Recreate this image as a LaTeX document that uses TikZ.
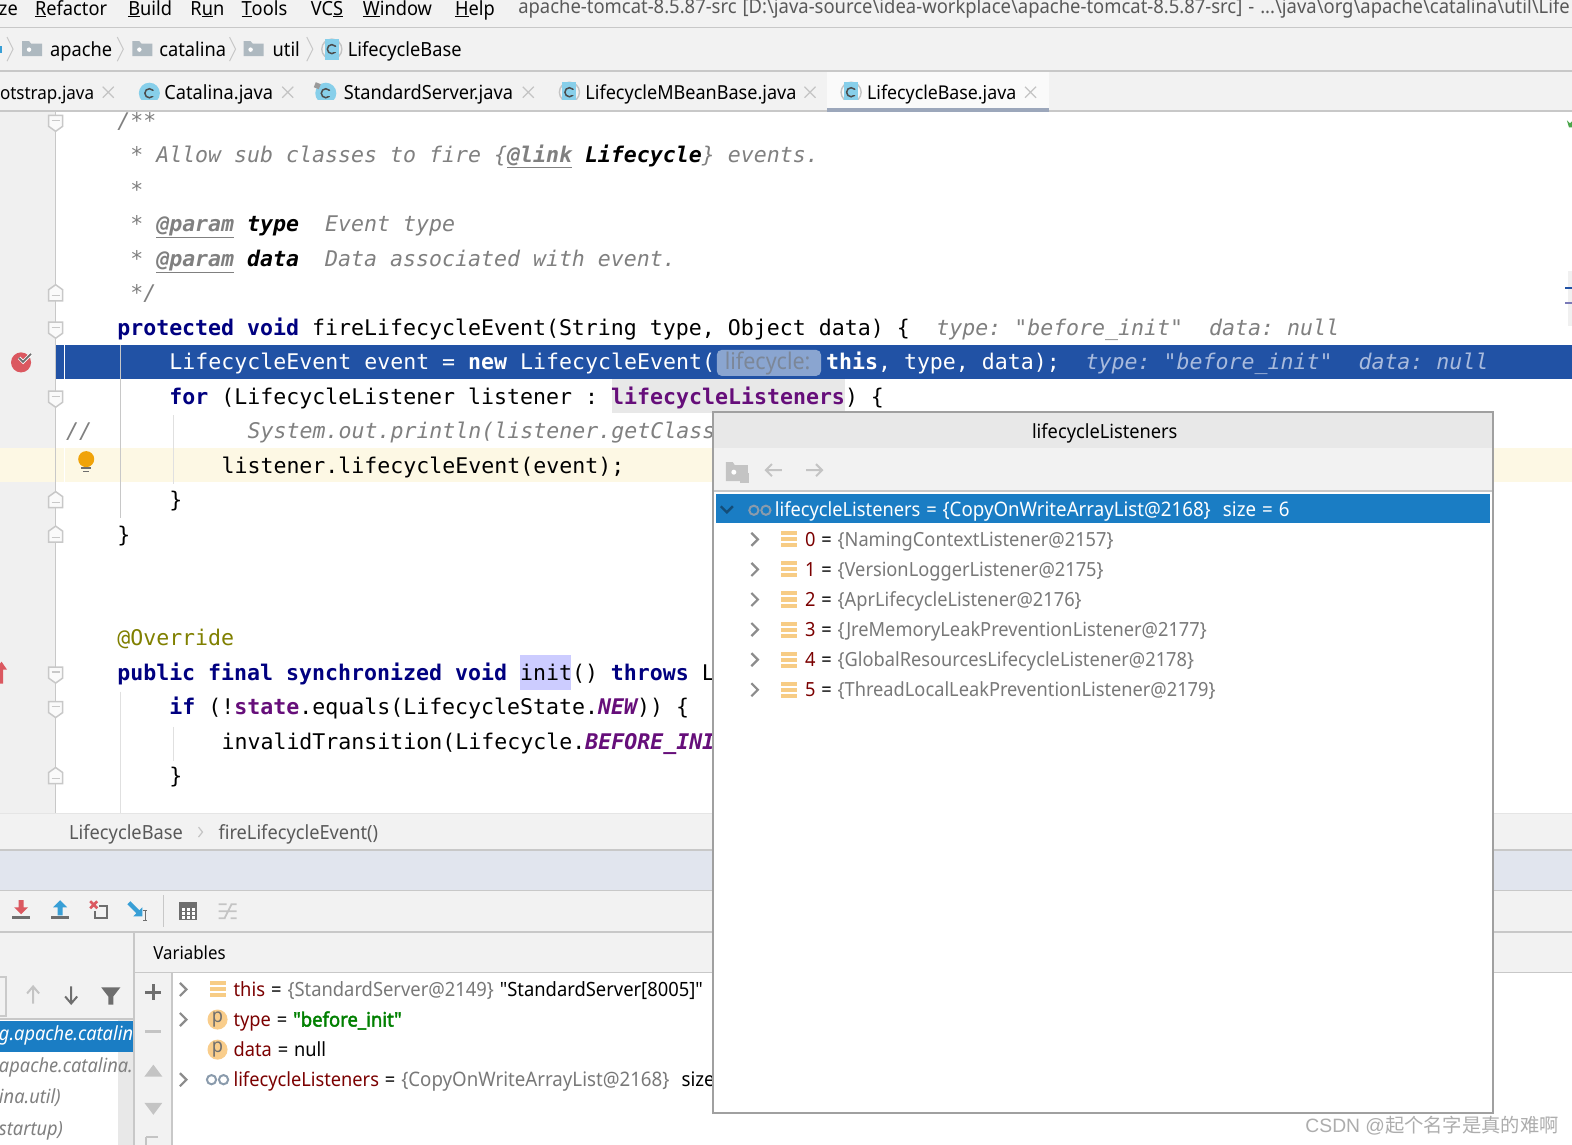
\documentclass[tikz,border=0pt]{standalone}
\usepackage{fontspec}
\newfontfamily\uif[FakeStretch=0.935,WordSpace=1.25]{Noto Sans}
\newfontfamily\uifb[FakeStretch=0.935,WordSpace=1.25,FakeBold=2.2]{Noto Sans}
\newfontfamily\cf{DejaVu Sans Mono}
\newfontfamily\wmf{Liberation Sans}
\newfontfamily\cjkf{Noto Sans CJK SC}
\definecolor{barbg}{HTML}{F2F2F2}
\definecolor{sepc}{HTML}{C8C8C8}
\definecolor{gutterbg}{HTML}{F0F0F0}
\definecolor{selrow}{HTML}{2152A5}
\definecolor{treesel}{HTML}{1A7DC4}
\definecolor{kw}{HTML}{000080}
\definecolor{fld}{HTML}{660E7A}
\definecolor{cmt}{HTML}{808080}
\definecolor{hintc}{HTML}{A9BBDD}
\definecolor{ann}{HTML}{808000}
\definecolor{yelrow}{HTML}{FDF8E4}
\definecolor{vname}{HTML}{7B0000}
\definecolor{vgray}{HTML}{787878}
\definecolor{stripe}{HTML}{F7CC85}
\definecolor{iblue}{HTML}{87CFEA}
\definecolor{icdark}{HTML}{6E6E6E}
\definecolor{iclight}{HTML}{C4C4C4}
\definecolor{ired}{HTML}{DB5860}
\definecolor{ibl}{HTML}{389FD6}
\definecolor{glass}{HTML}{8A9BAC}
\definecolor{dbghead}{HTML}{E1E5EE}
\definecolor{tabline}{HTML}{9CA7BB}
\definecolor{bulb}{HTML}{F0A30A}
\definecolor{folderc}{HTML}{AEB9C0}
\definecolor{pillc}{HTML}{8AA5D0}
\definecolor{pilltx}{HTML}{7C8798}
\definecolor{initbg}{HTML}{CCCCFF}
\definecolor{popborder}{HTML}{A0A0A0}
\definecolor{poptitle}{HTML}{E8E8E8}
\definecolor{pcirc}{HTML}{F9CD8B}
\definecolor{strgreen}{HTML}{008000}
\definecolor{chevdark}{HTML}{144D78}
\newcommand\kwd[1]{{\bfseries\color{kw}#1}}
\newcommand\flds[1]{{\bfseries\color{fld}#1}}
\newcommand\docb[1]{{\bfseries\color{black}#1}}
\newcommand\vn[1]{{\color{vname}#1}}
\newcommand\vg[1]{{\color{vgray}#1}}
\newcommand\uiset[1]{\uif\frenchspacing\fontsize{#1}{24}\selectfont}
\newcommand\cdln[3]{\node[codet] at (#1,{128+34.4*#2}) {#3};}
\newcommand\uit[3]{\node[uitx] at (#1,#2) {#3};}
\newcommand\foldd[1]{\begin{scope}[shift={(55.5,{123+34.4*#1})}]
 \draw[foldst] (-7,-8) -- (7,-8) -- (7,3) -- (0,8) -- (-7,3) -- cycle; \draw[foldm] (-4,-3) -- (4,-3);\end{scope}}
\newcommand\foldu[1]{\begin{scope}[shift={(55.5,{120+34.4*#1})}]
 \draw[foldst] (-7,8) -- (7,8) -- (7,-3) -- (0,-8) -- (-7,-3) -- cycle; \draw[foldm] (-4,3) -- (4,3);\end{scope}}
\newcommand\chev[2]{\draw[chevst] ({#1-3.5},{#2-6.5}) -- ({#1+3},#2) -- ({#1-3.5},{#2+6.5});}
\newcommand\stripes[2]{\begin{scope}[shift={(#1,#2)}]
 \fill[stripe] (-8,-8) rectangle (8,-4); \fill[stripe] (-8,-2) rectangle (8,2); \fill[stripe] (-8,4) rectangle (8,8);\end{scope}}
\newcommand\glasses[2]{\begin{scope}[shift={(#1,#2)}]
 \draw[glass,line width=2pt] (-6,0) circle[radius=4.6]; \draw[glass,line width=2pt] (6,0) circle[radius=4.6];\end{scope}}
\newcommand\clsicon[2]{\begin{scope}[shift={(#1,#2)}]
 \fill[iblue] (0,0) circle[radius=10.5];
 \draw[black!70,line width=1.5pt] (0,0) circle[radius=4.5]; \fill[iblue] (1.5,-2.4) rectangle (6.5,2.4);\end{scope}}
\newcommand\absicon[2]{\begin{scope}[shift={(#1,#2)}]
 \draw[iclight,line width=1.4pt] (0,0) circle[radius=10]; \fill[iblue] (-7,-10.5) rectangle (7,10.5);
 \draw[black!70,line width=1.5pt] (0,0) circle[radius=4.5]; \fill[iblue] (1.5,-2.4) rectangle (6.5,2.4);\end{scope}}
\newcommand\closex[2]{\draw[iclight,line width=1.2pt] ({#1-5.5},{#2-5.5}) -- ({#1+5.5},{#2+5.5}) ({#1-5.5},{#2+5.5}) -- ({#1+5.5},{#2-5.5});}
\newcommand\crumbfolder[2]{\begin{scope}[shift={(#1,#2)}]
 \fill[folderc] (-10,-8) -- (-3,-8) -- (-1,-5.5) -- (10,-5.5) -- (10,7) -- (-10,7) -- cycle;
 \fill[white] (-3,0.5) circle[radius=2.2];\end{scope}}
\newcommand\crumbchev[2]{\draw[sepc,line width=1pt] ({#1-3},{#2-12}) -- ({#1+3},#2) -- ({#1-3},{#2+12});}
\newcommand\treerow[3]{\chev{753}{#1}\stripes{787}{#1}\node[uitx] at (803,{#1+7}) {\vn{#2} = \vg{\{#3\}}};}
\tikzset{
 codet/.style={anchor=base west,inner sep=0pt,outer sep=0pt,font=\cf\frenchspacing\fontsize{21.58}{26}\selectfont},
 uitx/.style={anchor=base west,inner sep=0pt,outer sep=0pt,font=\uiset{19.5}},
 uiit/.style={uitx,font=\uiset{19.5}\itshape},
 foldst/.style={draw=sepc,line width=1.5pt,fill=white!70!gutterbg},
 foldm/.style={draw=sepc,line width=1.2pt},
 chevst/.style={draw=black!45,line width=2.2pt},
 guide/.style={draw=black!12,line width=1.5pt},
}
\begin{document}
\begin{tikzpicture}[x=1.0025pt,y=-1.0025pt]
\useasboundingbox (0,0) rectangle (1568.1,1142.1);
\clip (0,0) rectangle (1568.1,1142.1);
\fill[white] (0,0) rectangle (1568.1,1142.1);
% menu, crumbs, tabs
\fill[barbg] (0,0) rectangle (1568.1,111);
\fill[sepc] (0,27) rectangle (1568.1,28);
\fill[sepc] (0,70) rectangle (1568.1,71.5);
\uit{-1}{15}{ze}
\uit{35}{15}{\underline{R}efactor}
\uit{128}{15}{\underline{B}uild}
\uit{190}{15}{R\underline{u}n}
\uit{241}{15}{\underline{T}ools}
\uit{310}{15}{VC\underline{S}}
\uit{362}{15}{\underline{W}indow}
\uit{454}{15}{\underline{H}elp}
\node[uitx,text=black!65,font=\uiset{19.72}] at (517,13) {apache-tomcat-8.5.87-src [D:\textbackslash java-source\textbackslash idea-workplace\textbackslash apache-tomcat-8.5.87-src] - ...\textbackslash java\textbackslash org\textbackslash apache\textbackslash catalina\textbackslash util\textbackslash Life};
\fill[ibl] (0,46) rectangle (2,53);
\crumbchev{10}{49}
\crumbfolder{32}{49}\uit{50}{56}{apache}
\crumbchev{120}{49}
\crumbfolder{142}{49}\uit{159}{56}{catalina}
\crumbchev{232}{49}
\crumbfolder{253}{49}\uit{272}{56}{util}
\crumbchev{309}{49}
\absicon{331}{49}\uit{347}{56}{LifecycleBase}
\fill[white!60!barbg] (825,72) rectangle (1046,109);
\closex{108}{92}
\clsicon{149}{93}\closex{287}{92}
\clsicon{325}{93}\closex{527}{92}
\fill[icdark!70!white] (315,82) -- (320,84) -- (318,89) -- (313,87) -- cycle;
\absicon{568}{92}\closex{808}{92}
\absicon{849}{92}\closex{1028}{92}
% gutter and rows
\fill[gutterbg] (0,112) rectangle (55,811);
\fill[yelrow] (0,447) rectangle (1568.1,481);
\fill[white] (63.5,447) rectangle (64.5,481);
\fill[selrow] (56,344) rectangle (1568.1,378);
\fill[white] (63.5,344) rectangle (64.5,378);
\fill[sepc] (54.5,112) rectangle (56,811);
\fill[black!9] (610,378) rectangle (843,412);
\fill[initbg] (519,653) rectangle (570,688);
\draw[sepc,line width=1.5pt] (120,344) -- (120,517);
\draw[guide] (173,414) -- (173,483);
\draw[guide] (120,690) -- (120,811);
\draw[guide] (173,725) -- (173,759);
\foldd{0}\foldu{5}\foldd{6}\foldd{8}\foldu{11}\foldu{12}\foldd{16}\foldd{17}\foldu{19}
% code
\cdln{117}{0}{\color{cmt}\itshape /**}
% tab strip edge lies over the first fold and the cut first code line
\fill[barbg] (0,100) rectangle (825,110);
\fill[white!60!barbg] (825,100) rectangle (1046,109);
\fill[barbg] (1046,100) rectangle (1568.1,110);
\fill[sepc] (0,110) rectangle (1568.1,112);
\fill[tabline] (825,108) rectangle (1046,112);
\node[uitx,font=\uiset{18.2}] at (0,99) {otstrap.java};
\uit{164}{99}{Catalina.java}
\uit{343}{99}{StandardServer.java}
\node[uitx,font=\uiset{19.3}] at (584,99) {LifecycleMBeanBase.java};
\node[uitx,font=\uiset{19}] at (865,99) {LifecycleBase.java};
% breakpoint
\fill[ired] (21,361.5) circle[radius=10];
\draw[white,line width=3.4pt] (19,357) -- (23,361) -- (31,353);
\draw[icdark,line width=1.8pt] (19,357) -- (23,361) -- (31,353);
% bulb
\fill[bulb] (86,458) circle[radius=8];
\fill[bulb] (82,462) rectangle (90,465);
\fill[icdark] (81,466) rectangle (91,467.5);
\fill[icdark] (83,469.5) rectangle (89,471);
% red arrow
\fill[ired] (-4,668) -- (1.5,660) -- (7,668) -- (3,668) -- (3,682) -- (0,682) -- (0,668) -- cycle;
% right stripe
\fill[black!6] (1564,270) rectangle (1568.1,325);
\fill[selrow] (1561,286) rectangle (1568.1,288.5);
\fill[blue!30!gray!80] (1561,301) rectangle (1568.1,303);
\fill[green!50!black!70] (1563,120) -- (1566,123) -- (1568.1,121) -- (1568.1,127) -- (1565,127) -- cycle;
\cdln{117}{1}{\color{cmt}\itshape ~* Allow sub classes to fire \{{\bfseries\underline{@link}} \docb{Lifecycle}\} events.}
\cdln{117}{2}{\color{cmt}\itshape ~*}
\cdln{117}{3}{\color{cmt}\itshape ~* {\bfseries\underline{@param}} \docb{type}~~Event type}
\cdln{117}{4}{\color{cmt}\itshape ~* {\bfseries\underline{@param}} \docb{data}~~Data associated with event.}
\cdln{117}{5}{\color{cmt}\itshape ~*/}
\cdln{117}{6}{\kwd{protected} \kwd{void} fireLifecycleEvent(String type, Object data) \{}
\cdln{934}{6}{\color{cmt}\itshape type: "before\_init"~~data: null}
\cdln{169}{7}{\color{white}LifecycleEvent event = {\bfseries new} LifecycleEvent(}
\fill[pillc,rounded corners=5pt] (715,349) rectangle (819,375);
\node[uitx,text=pilltx,font=\uiset{23}] at (723,369) {lifecycle:};
\cdln{824}{7}{\color{white}{\bfseries this}, type, data);}
\cdln{1083}{7}{\color{hintc}\itshape type: "before\_init"~~data: null}
\cdln{169}{8}{\kwd{for} (LifecycleListener listener : \flds{lifecycleListeners}) \{}
\cdln{66}{9}{\color{cmt}\itshape //}
\cdln{247}{9}{\color{cmt}\itshape System.out.println(listener.getClass}
\cdln{221}{10}{listener.lifecycleEvent(event);}
\cdln{169}{11}{\}}
\cdln{117}{12}{\}}
\cdln{117}{15}{\color{ann}@Override}
\cdln{117}{16}{\kwd{public} \kwd{final} \kwd{synchronized} \kwd{void} init() \kwd{throws} L}
\cdln{169}{17}{\kwd{if} (!\flds{state}.equals(LifecycleState.{\bfseries\itshape\color{fld}NEW})) \{}
\cdln{221}{18}{invalidTransition(Lifecycle.{\bfseries\itshape\color{fld}BEFORE\_INI}}
\cdln{169}{19}{\}}
% status crumbs
\fill[barbg] (0,811) rectangle (1568.1,848);
\fill[black!10] (0,810.5) rectangle (1568.1,811.5);
\fill[sepc] (0,847) rectangle (1568.1,849);
\node[uitx,text=black!65] at (69,837) {LifecycleBase};
\draw[iclight,line width=1.2pt] (198,825) -- (202,830) -- (198,835);
\node[uitx,text=black!65] at (218,837) {fireLifecycleEvent()};
% debug header + toolbar
\fill[dbghead] (0,849) rectangle (1568.1,888);
\fill[sepc] (0,888) rectangle (1568.1,889);
\fill[barbg] (0,889) rectangle (1568.1,1142.1);
\fill[sepc] (0,929) rectangle (1568.1,931);
% toolbar icons
\fill[ired] (21,912) -- (14,905) -- (18.5,905) -- (18.5,898) -- (23.5,898) -- (23.5,905) -- (28,905) -- cycle;
\fill[icdark] (12,914) rectangle (30,916.5);
\fill[ibl] (60,898) -- (67,905) -- (62.5,905) -- (62.5,913) -- (57.5,913) -- (57.5,905) -- (53,905) -- cycle;
\fill[icdark] (51,914) rectangle (69,916.5);
\draw[ired,line width=2.6pt] (90,899) -- (97,906) (90,906) -- (97,899);
\draw[icdark,line width=2pt] (99,904) -- (107,904) -- (107,916) -- (95,916) -- (95,909);
\fill[ibl] (130,899) -- (139,908) -- (142,905) -- (142,914) -- (133,914) -- (136,911) -- (127,902) -- cycle;
\draw[icdark,line width=1pt] (143,908) -- (147,908) (145,908) -- (145,918) (143,918) -- (147,918);
\fill[sepc] (162.5,893) rectangle (163.5,925);
\fill[icdark] (179,900) rectangle (197,918);
\foreach \gx in {182,187,192} \foreach \gy in {906,910,914} {\fill[white] (\gx,\gy) rectangle ({\gx+3},{\gy+2.5});}
\draw[iclight,line width=1.8pt] (218,902) -- (226,902) (230,902) -- (236,902) (218,909) -- (236,909) (218,916) -- (225,916) (230,916) -- (236,916) (224,916) -- (231,902);
% variables panel frame
\fill[sepc] (133,931) rectangle (134.5,1142.1);
\fill[sepc] (134,969.5) rectangle (1568.1,971);
\node[uitx,font=\uiset{18}] at (153,957) {Variables};
\fill[white] (172,971) rectangle (1568.1,1142.1);
\fill[sepc] (171,971) rectangle (172.5,1142.1);
% side toolbar
\draw[icdark,line width=2.4pt] (145,990) -- (161,990) (153,982) -- (153,998);
\draw[iclight,line width=2.4pt] (145,1029) -- (161,1029);
\fill[iclight] (144,1074) -- (153,1062) -- (162,1074) -- cycle;
\fill[iclight] (144,1100) -- (162,1100) -- (153,1112) -- cycle;
\draw[iclight,line width=2pt] (146,1134) -- (158,1134) (146,1142) -- (146,1134);
% frames list
\fill[sepc] (0,1015.5) rectangle (133,1017);
\fill[white] (0,1017) rectangle (133,1142.1);
\fill[black!9] (118,1017) rectangle (133,1142.1);
\fill[treesel] (0,1018) rectangle (133,1049);
\fill[iclight!90!white] (-4,974) rectangle (7,1014);
\fill[black!5] (-4,976) rectangle (5,1012);
\draw[iclight,line width=2pt] (33,1001) -- (33,985) (27,991) -- (33,984) -- (39,991);
\draw[icdark,line width=2pt] (71,984) -- (71,1000) (65,994) -- (71,1001) -- (77,994);
\fill[icdark] (101,985) -- (120,985) -- (113,994) -- (113,1002) -- (108,1002) -- (108,994) -- cycle;
\begin{scope}
\clip (0,1017) rectangle (133,1142);
\node[uiit,text=white] at (-1,1038) {g.apache.catalin};
\node[uiit,text=cmt] at (-1,1070) {apache.catalina.};
\node[uiit,text=cmt] at (-1,1101) {ina.util)};
\node[uiit,text=cmt] at (-1,1133) {startup)};
\end{scope}
% variables
\chev{183}{987}\stripes{217}{987}
\node[uitx,font=\uiset{19.65}] at (233,994) {\vn{this} = \vg{\{StandardServer@2149\}} "StandardServer[8005]"};
\chev{183}{1017}
\fill[pcirc] (217,1017) circle[radius=10];
\node[uitx,anchor=center,text=icdark] at (217,1017) {p};
\node[uitx] at (233,1024) {\vn{type} = {\uifb\fontsize{19.8}{24}\selectfont\color{strgreen}"before\_init"}};
\fill[pcirc] (217,1047) circle[radius=10];
\node[uitx,anchor=center,text=icdark] at (217,1047) {p};
\node[uitx] at (233,1054) {\vn{data} = null};
\chev{183}{1077}\glasses{217}{1077}
\node[uitx] at (233,1084) {\vn{lifecycleListeners} = {\fontsize{20}{24}\selectfont\vg{\{CopyOnWriteArrayList@2168\}}~~size}};
% popup
\fill[white] (711,411) rectangle (1489,1110);
\fill[poptitle] (711,411) rectangle (1489,447);
\fill[barbg] (711,447) rectangle (1489,489);
\fill[sepc] (711,489) rectangle (1489,491);
\draw[popborder,line width=2pt] (711,411) rectangle (1489,1110);
\node[uitx,anchor=base] at (1102,437) {lifecycleListeners};
\fill[iclight] (724,461) -- (731,461) -- (733,464) -- (746,464) -- (746,480) -- (724,480) -- cycle;
\fill[white] (732,471) circle[radius=2.5];
\fill[iclight] (738,472) rectangle (747,482);
\draw[iclight,line width=2pt] (780,469) -- (764,469) (770,463) -- (764,469) -- (770,475);
\draw[iclight,line width=2pt] (804,469) -- (820,469) (814,463) -- (820,469) -- (814,475);
\fill[treesel] (714,493) rectangle (1486,522);
\draw[chevdark,line width=2.4pt] (719,505) -- (725,511) -- (731,505);
\glasses{758}{509}
\node[uitx,text=white] at (773,515) {lifecycleListeners = {\fontsize{20}{24}\selectfont\{CopyOnWriteArrayList@2168\}~~size = 6}};
\treerow{538}{0}{NamingContextListener@2157}
\treerow{568}{1}{VersionLoggerListener@2175}
\treerow{598}{2}{AprLifecycleListener@2176}
\treerow{628}{3}{JreMemoryLeakPreventionListener@2177}
\treerow{658}{4}{GlobalResourcesLifecycleListener@2178}
\treerow{688}{5}{ThreadLocalLeakPreventionListener@2179}
% watermark
\node[anchor=base west,inner sep=0pt,text=black!32,font=\wmf\fontsize{19.3}{24}\selectfont] at (1302,1130) {CSDN @{\cjkf 起个名字是真的难啊}};
\end{tikzpicture}
\end{document}
